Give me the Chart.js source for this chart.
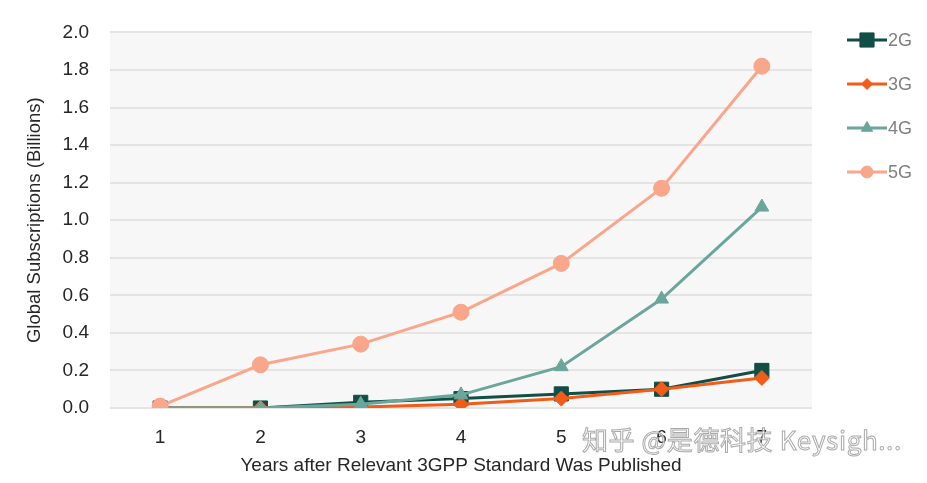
<!DOCTYPE html>
<html>
<head>
<meta charset="utf-8">
<script src="https://cdn.jsdelivr.net/npm/chart.js@4/dist/chart.umd.min.js"></script>
<style>
  html, body { margin: 0; padding: 0; background: #fff; }
  #wrap { position: relative; width: 927px; height: 483px; }
  #mark {
    position: absolute; left: 582px; top: 420px;
    font: 26px "Noto Sans CJK SC", "Noto Sans", sans-serif;
    letter-spacing: 0.6px;
    color: rgba(255, 255, 255, 0.75);
    -webkit-text-stroke: 1px rgba(140, 140, 140, 0.75);
    white-space: nowrap; pointer-events: none;
  }
</style>
</head>
<body>
<div id="wrap">
  <canvas id="chart" width="927" height="483"></canvas>
  <div id="mark">知乎 @是德科技 Keysigh...</div>
</div>
<script>
const years = ['1', '2', '3', '4', '5', '6', '7'];
const series2G = [0.0, 0.0, 0.03, 0.05, 0.075, 0.10, 0.20];
const series3G = [0.0, 0.0, 0.005, 0.02, 0.05, 0.10, 0.16];
const series4G = [0.0, 0.0, 0.02, 0.07, 0.22, 0.58, 1.07];
const series5G = [0.01, 0.23, 0.34, 0.51, 0.77, 1.17, 1.82];
const yTicks = [0, 0.2, 0.4, 0.6, 0.8, 1.0, 1.2, 1.4, 1.6, 1.8, 2.0];

const FONT = '"Liberation Sans", Arial, sans-serif';
const TEXT = '#262626';

// plot background
const plotBackground = {
  id: 'plotBackground',
  beforeDraw(chart) {
    const { ctx, chartArea: a } = chart;
    ctx.save();
    ctx.fillStyle = '#f7f7f7';
    ctx.fillRect(a.left, a.top, a.right - a.left, a.bottom - a.top);
    ctx.restore();
  }
};

// legend with line through marker, drawn at the right
const legendRadius = { rect: 10, rectRot: 5.5, triangle: 6.5, circle: 6 };
const lineLegend = {
  id: 'lineLegend',
  afterDraw(chart) {
    const { ctx } = chart;
    chart.data.datasets.forEach((ds, i) => {
      const y = 40 + i * 44;
      ctx.save();
      ctx.strokeStyle = ds.borderColor;
      ctx.lineWidth = 3;
      ctx.beginPath();
      ctx.moveTo(847, y);
      ctx.lineTo(887, y);
      ctx.stroke();
      ctx.fillStyle = ds.pointBackgroundColor;
      ctx.strokeStyle = ds.pointBorderColor;
      ctx.lineWidth = 1;
      Chart.helpers.drawPoint(ctx, {
        pointStyle: ds.pointStyle,
        radius: legendRadius[ds.pointStyle],
        rotation: 0,
        borderWidth: 1
      }, 867, y);
      ctx.fillStyle = '#808080';
      ctx.font = '18px ' + FONT;
      ctx.textBaseline = 'middle';
      ctx.textAlign = 'left';
      ctx.fillText(ds.label, 888, y + 1);
      ctx.restore();
    });
  }
};

function lineSet(label, data, color, style, radius, order) {
  return {
    label: label,
    data: data,
    borderColor: color,
    backgroundColor: color,
    pointBackgroundColor: color,
    pointBorderColor: color,
    pointBorderWidth: 1,
    pointStyle: style,
    pointRadius: radius,
    pointHoverRadius: radius,
    borderWidth: 3,
    tension: 0,
    order: order
  };
}

new Chart(document.getElementById('chart'), {
  type: 'line',
  data: {
    labels: years,
    datasets: [
      lineSet('2G', series2G, '#114e45', 'rect', 10, 3),
      lineSet('3G', series3G, '#f25c19', 'rectRot', 7.5, 2),
      lineSet('4G', series4G, '#6ba69c', 'triangle', 8, 1),
      lineSet('5G', series5G, '#f9a68b', 'circle', 8, 0)
    ]
  },
  options: {
    responsive: false,
    animation: false,
    layout: { padding: { top: 30, right: 115, left: 0, bottom: 0 } },
    plugins: {
      legend: { display: false },
      tooltip: { enabled: false }
    },
    scales: {
      x: {
        offset: true,
        grid: { display: false, drawTicks: false },
        border: { display: false },
        ticks: { color: TEXT, font: { family: FONT, size: 19 }, padding: 18 },
        title: {
          display: true,
          text: 'Years after Relevant 3GPP Standard Was Published',
          color: TEXT,
          font: { family: FONT, size: 19 },
          padding: { top: 0, bottom: 6 }
        },
        afterFit(scale) { scale.height = 75; }
      },
      y: {
        min: 0,
        max: 2.0,
        afterBuildTicks(scale) { scale.ticks = yTicks.map(v => ({ value: v })); },
        grid: { color: '#e4e4e4', lineWidth: 2, drawTicks: false },
        border: { display: false },
        ticks: {
          color: TEXT,
          font: { family: FONT, size: 19 },
          padding: 21,
          callback: v => v.toFixed(1)
        },
        title: {
          display: true,
          text: 'Global Subscriptions (Billions)',
          color: TEXT,
          font: { family: FONT, size: 18.5 },
          padding: { top: 24, bottom: 0 }
        },
        afterFit(scale) { scale.width = 110; }
      }
    }
  },
  plugins: [plotBackground, lineLegend]
});
</script>
</body>
</html>
